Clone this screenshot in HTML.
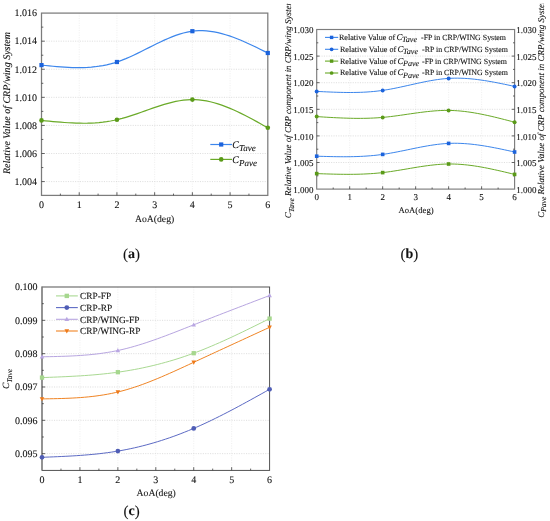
<!DOCTYPE html>
<html><head><meta charset="utf-8"><title>Figure</title>
<style>html,body{margin:0;padding:0;background:#fff}svg{display:block}</style></head>
<body>
<svg width="550" height="521" viewBox="0 0 550 521">
<rect width="550" height="521" fill="#fff"/>
<style>text{text-rendering:geometricPrecision;stroke:#222;stroke-width:0.1px;paint-order:stroke}</style>
<path d="M79.22,13.10V195.40M116.93,13.10V195.40M154.65,13.10V195.40M192.37,13.10V195.40M230.08,13.10V195.40" stroke="#e6e6e6" stroke-width="0.6" stroke-dasharray="1.1,1.3" fill="none"/>
<path d="M41.50,41.18H267.80M41.50,69.26H267.80M41.50,97.34H267.80M41.50,125.42H267.80M41.50,153.50H267.80M41.50,181.58H267.80" stroke="#cacaca" stroke-width="0.6" stroke-dasharray="1.1,1.3" fill="none"/>
<clipPath id="ca"><rect x="37.5" y="9.1" width="234.3" height="190.3"/></clipPath>
<path d="M41.50,65.10 L45.34,65.49 L49.17,65.88 L53.01,66.25 L56.84,66.59 L60.68,66.90 L64.51,67.17 L68.35,67.38 L72.18,67.54 L76.02,67.62 L79.86,67.63 L83.69,67.55 L87.53,67.38 L91.36,67.11 L95.20,66.72 L99.03,66.21 L102.87,65.57 L106.71,64.80 L110.54,63.88 L114.38,62.81 L118.21,61.57 L122.05,60.17 L125.88,58.63 L129.72,56.97 L133.55,55.22 L137.39,53.38 L141.23,51.49 L145.06,49.56 L148.90,47.62 L152.73,45.69 L156.57,43.78 L160.40,41.93 L164.24,40.14 L168.07,38.45 L171.91,36.87 L175.75,35.42 L179.58,34.12 L183.42,33.01 L187.25,32.08 L191.09,31.38 L194.92,30.92 L198.76,30.69 L202.59,30.69 L206.43,30.90 L210.27,31.31 L214.10,31.91 L217.94,32.68 L221.77,33.62 L225.61,34.71 L229.44,35.93 L233.28,37.28 L237.12,38.74 L240.95,40.31 L244.79,41.96 L248.62,43.68 L252.46,45.47 L256.29,47.31 L260.13,49.19 L263.96,51.09 L267.80,53.00" stroke="#3c86ec" stroke-width="1.2" fill="none"/>
<path d="M41.50,120.40 L45.34,120.79 L49.17,121.17 L53.01,121.54 L56.84,121.89 L60.68,122.22 L64.51,122.51 L68.35,122.76 L72.18,122.96 L76.02,123.12 L79.86,123.21 L83.69,123.23 L87.53,123.19 L91.36,123.06 L95.20,122.85 L99.03,122.54 L102.87,122.14 L106.71,121.63 L110.54,121.01 L114.38,120.26 L118.21,119.40 L122.05,118.41 L125.88,117.31 L129.72,116.12 L133.55,114.87 L137.39,113.56 L141.23,112.21 L145.06,110.85 L148.90,109.49 L152.73,108.14 L156.57,106.83 L160.40,105.58 L164.24,104.40 L168.07,103.30 L171.91,102.32 L175.75,101.46 L179.58,100.74 L183.42,100.18 L187.25,99.80 L191.09,99.61 L194.92,99.64 L198.76,99.88 L202.59,100.33 L206.43,100.96 L210.27,101.77 L214.10,102.75 L217.94,103.88 L221.77,105.16 L225.61,106.58 L229.44,108.12 L233.28,109.77 L237.12,111.52 L240.95,113.36 L244.79,115.28 L248.62,117.26 L252.46,119.30 L256.29,121.39 L260.13,123.51 L263.96,125.65 L267.80,127.80" stroke="#6aaa28" stroke-width="1.2" fill="none"/>
<rect x="41.50" y="13.10" width="226.30" height="182.30" fill="none" stroke="#7c7c7c" stroke-width="1.25"/>
<path d="M60.36,195.40v-1.8M79.22,195.40v-3.2M98.08,195.40v-1.8M116.93,195.40v-3.2M135.79,195.40v-1.8M154.65,195.40v-3.2M173.51,195.40v-1.8M192.37,195.40v-3.2M211.23,195.40v-1.8M230.08,195.40v-3.2M248.94,195.40v-1.8M41.50,41.18h3.2M41.50,69.26h3.2M41.50,97.34h3.2M41.50,125.42h3.2M41.50,153.50h3.2M41.50,181.58h3.2M41.50,27.14h1.8M41.50,55.22h1.8M41.50,83.30h1.8M41.50,111.38h1.8M41.50,139.46h1.8M41.50,167.54h1.8" stroke="#3c3c3c" stroke-width="0.8" fill="none"/>
<rect x="39.40" y="63.00" width="4.20" height="4.20" fill="#1c63dc"/>
<rect x="114.83" y="59.90" width="4.20" height="4.20" fill="#1c63dc"/>
<rect x="190.27" y="29.10" width="4.20" height="4.20" fill="#1c63dc"/>
<rect x="265.70" y="50.90" width="4.20" height="4.20" fill="#1c63dc"/>
<circle cx="41.50" cy="120.40" r="2.31" fill="#5a9a18"/>
<circle cx="116.93" cy="119.70" r="2.31" fill="#5a9a18"/>
<circle cx="192.37" cy="99.60" r="2.31" fill="#5a9a18"/>
<circle cx="267.80" cy="127.80" r="2.31" fill="#5a9a18"/>
<g font-family="'Liberation Serif', serif" font-size="10" fill="#111">
<text x="37.00" y="16.40" text-anchor="end">1.016</text>
<text x="37.00" y="44.48" text-anchor="end">1.014</text>
<text x="37.00" y="72.56" text-anchor="end">1.012</text>
<text x="37.00" y="100.64" text-anchor="end">1.010</text>
<text x="37.00" y="128.72" text-anchor="end">1.008</text>
<text x="37.00" y="156.80" text-anchor="end">1.006</text>
<text x="37.00" y="184.88" text-anchor="end">1.004</text>
<text x="41.50" y="207.80" text-anchor="middle">0</text>
<text x="79.22" y="207.80" text-anchor="middle">1</text>
<text x="116.93" y="207.80" text-anchor="middle">2</text>
<text x="154.65" y="207.80" text-anchor="middle">3</text>
<text x="192.37" y="207.80" text-anchor="middle">4</text>
<text x="230.08" y="207.80" text-anchor="middle">5</text>
<text x="267.80" y="207.80" text-anchor="middle">6</text>
</g>
<path d="M210.3,144.5H232" stroke="#3c86ec" stroke-width="1.2"/><rect x="219.10" y="142.40" width="4.20" height="4.20" fill="#1c63dc"/>
<path d="M210.3,159.4H232" stroke="#6aaa28" stroke-width="1.2"/><circle cx="221.20" cy="159.40" r="2.31" fill="#5a9a18"/>
<g font-family="'Liberation Serif', serif" font-style="italic" fill="#111" font-size="10">
<text x="232.3" y="147.7">C<tspan font-size="9" dy="2.9">Tave</tspan></text>
<text x="232.3" y="162.6">C<tspan font-size="9" dy="2.9">Pave</tspan></text>
</g>
<text transform="translate(9.7,103) rotate(-90)" text-anchor="middle" font-family="'Liberation Serif', serif" font-style="italic" font-size="10" fill="#111" textLength="142" lengthAdjust="spacingAndGlyphs">Relative Value of CRP/wing System</text>
<text x="154.6" y="221.8" text-anchor="middle" font-family="'Liberation Serif', serif" font-size="9.7" fill="#111">AoA(deg)</text>
<text x="131.6" y="258.0" text-anchor="middle" font-family="'Liberation Serif', serif" font-size="15" fill="#111"><tspan dy="0.7">(</tspan><tspan font-weight="bold" font-size="14" dy="-0.7">a</tspan><tspan dy="0.7">)</tspan></text>
<path d="M349.68,29.50V189.10M382.67,29.50V189.10M415.65,29.50V189.10M448.63,29.50V189.10M481.62,29.50V189.10" stroke="#e6e6e6" stroke-width="0.6" stroke-dasharray="1.1,1.3" fill="none"/>
<path d="M316.70,56.10H514.60M316.70,82.70H514.60M316.70,109.30H514.60M316.70,135.90H514.60M316.70,162.50H514.60" stroke="#cacaca" stroke-width="0.6" stroke-dasharray="1.1,1.3" fill="none"/>
<clipPath id="cb"><rect x="312.7" y="25.5" width="205.90000000000003" height="167.6"/></clipPath>
<path d="M316.70,91.40 L320.05,91.57 L323.41,91.73 L326.76,91.88 L330.12,92.03 L333.47,92.16 L336.83,92.28 L340.18,92.37 L343.53,92.44 L346.89,92.49 L350.24,92.50 L353.60,92.48 L356.95,92.42 L360.31,92.33 L363.66,92.19 L367.01,92.00 L370.37,91.76 L373.72,91.47 L377.08,91.12 L380.43,90.71 L383.78,90.23 L387.14,89.70 L390.49,89.11 L393.85,88.47 L397.20,87.79 L400.56,87.08 L403.91,86.35 L407.26,85.60 L410.62,84.85 L413.97,84.10 L417.33,83.36 L420.68,82.63 L424.04,81.94 L427.39,81.27 L430.74,80.65 L434.10,80.08 L437.45,79.57 L440.81,79.13 L444.16,78.76 L447.52,78.48 L450.87,78.28 L454.22,78.18 L457.58,78.16 L460.93,78.22 L464.29,78.36 L467.64,78.57 L470.99,78.85 L474.35,79.20 L477.70,79.59 L481.06,80.05 L484.41,80.54 L487.77,81.09 L491.12,81.67 L494.47,82.28 L497.83,82.92 L501.18,83.59 L504.54,84.28 L507.89,84.98 L511.25,85.69 L514.60,86.40" stroke="#3c86ec" stroke-width="1.0" fill="none"/>
<path d="M316.70,116.60 L320.05,116.81 L323.41,117.02 L326.76,117.22 L330.12,117.41 L333.47,117.60 L336.83,117.77 L340.18,117.92 L343.53,118.06 L346.89,118.17 L350.24,118.26 L353.60,118.33 L356.95,118.36 L360.31,118.37 L363.66,118.34 L367.01,118.27 L370.37,118.17 L373.72,118.02 L377.08,117.83 L380.43,117.59 L383.78,117.30 L387.14,116.96 L390.49,116.58 L393.85,116.16 L397.20,115.72 L400.56,115.25 L403.91,114.77 L407.26,114.28 L410.62,113.79 L413.97,113.31 L417.33,112.84 L420.68,112.40 L424.04,111.97 L427.39,111.59 L430.74,111.25 L434.10,110.95 L437.45,110.71 L440.81,110.53 L444.16,110.42 L447.52,110.39 L450.87,110.44 L454.22,110.58 L457.58,110.79 L460.93,111.08 L464.29,111.43 L467.64,111.86 L470.99,112.34 L474.35,112.88 L477.70,113.47 L481.06,114.11 L484.41,114.80 L487.77,115.52 L491.12,116.28 L494.47,117.07 L497.83,117.88 L501.18,118.72 L504.54,119.58 L507.89,120.44 L511.25,121.32 L514.60,122.20" stroke="#6aaa28" stroke-width="1.0" fill="none"/>
<path d="M316.70,156.20 L320.05,156.30 L323.41,156.40 L326.76,156.49 L330.12,156.57 L333.47,156.64 L336.83,156.69 L340.18,156.73 L343.53,156.74 L346.89,156.74 L350.24,156.70 L353.60,156.64 L356.95,156.54 L360.31,156.41 L363.66,156.24 L367.01,156.03 L370.37,155.77 L373.72,155.47 L377.08,155.11 L380.43,154.70 L383.78,154.24 L387.14,153.72 L390.49,153.15 L393.85,152.54 L397.20,151.90 L400.56,151.23 L403.91,150.55 L407.26,149.85 L410.62,149.16 L413.97,148.46 L417.33,147.78 L420.68,147.12 L424.04,146.49 L427.39,145.89 L430.74,145.33 L434.10,144.83 L437.45,144.38 L440.81,144.00 L444.16,143.69 L447.52,143.46 L450.87,143.32 L454.22,143.26 L457.58,143.29 L460.93,143.40 L464.29,143.58 L467.64,143.83 L470.99,144.14 L474.35,144.52 L477.70,144.95 L481.06,145.43 L484.41,145.95 L487.77,146.52 L491.12,147.12 L494.47,147.76 L497.83,148.42 L501.18,149.11 L504.54,149.82 L507.89,150.54 L511.25,151.27 L514.60,152.00" stroke="#3c86ec" stroke-width="1.0" fill="none"/>
<path d="M316.70,173.60 L320.05,173.72 L323.41,173.83 L326.76,173.94 L330.12,174.04 L333.47,174.13 L336.83,174.21 L340.18,174.27 L343.53,174.31 L346.89,174.33 L350.24,174.33 L353.60,174.31 L356.95,174.25 L360.31,174.16 L363.66,174.04 L367.01,173.89 L370.37,173.69 L373.72,173.46 L377.08,173.17 L380.43,172.85 L383.78,172.47 L387.14,172.04 L390.49,171.58 L393.85,171.07 L397.20,170.54 L400.56,169.99 L403.91,169.43 L407.26,168.86 L410.62,168.29 L413.97,167.72 L417.33,167.17 L420.68,166.64 L424.04,166.14 L427.39,165.68 L430.74,165.26 L434.10,164.88 L437.45,164.56 L440.81,164.31 L444.16,164.12 L447.52,164.02 L450.87,163.99 L454.22,164.05 L457.58,164.19 L460.93,164.41 L464.29,164.69 L467.64,165.04 L470.99,165.45 L474.35,165.92 L477.70,166.44 L481.06,167.01 L484.41,167.62 L487.77,168.28 L491.12,168.97 L494.47,169.69 L497.83,170.43 L501.18,171.20 L504.54,171.98 L507.89,172.78 L511.25,173.59 L514.60,174.40" stroke="#6aaa28" stroke-width="1.0" fill="none"/>
<rect x="316.70" y="29.50" width="197.90" height="159.60" fill="none" stroke="#7c7c7c" stroke-width="1.15"/>
<path d="M333.19,189.10v-1.6M349.68,189.10v-2.8M366.18,189.10v-1.6M382.67,189.10v-2.8M399.16,189.10v-1.6M415.65,189.10v-2.8M432.14,189.10v-1.6M448.63,189.10v-2.8M465.12,189.10v-1.6M481.62,189.10v-2.8M498.11,189.10v-1.6M316.70,56.10h2.8M514.60,56.10h-2.8M316.70,82.70h2.8M514.60,82.70h-2.8M316.70,109.30h2.8M514.60,109.30h-2.8M316.70,135.90h2.8M514.60,135.90h-2.8M316.70,162.50h2.8M514.60,162.50h-2.8M316.70,42.80h1.6M514.60,42.80h-1.6M316.70,69.40h1.6M514.60,69.40h-1.6M316.70,96.00h1.6M514.60,96.00h-1.6M316.70,122.60h1.6M514.60,122.60h-1.6M316.70,149.20h1.6M514.60,149.20h-1.6M316.70,175.80h1.6M514.60,175.80h-1.6" stroke="#3c3c3c" stroke-width="0.8" fill="none"/>
<circle cx="316.70" cy="91.40" r="1.98" fill="#1c63dc"/>
<circle cx="382.67" cy="90.40" r="1.98" fill="#1c63dc"/>
<circle cx="448.63" cy="78.40" r="1.98" fill="#1c63dc"/>
<circle cx="514.60" cy="86.40" r="1.98" fill="#1c63dc"/>
<circle cx="316.70" cy="116.60" r="1.98" fill="#5a9a18"/>
<circle cx="382.67" cy="117.40" r="1.98" fill="#5a9a18"/>
<circle cx="448.63" cy="110.40" r="1.98" fill="#5a9a18"/>
<circle cx="514.60" cy="122.20" r="1.98" fill="#5a9a18"/>
<rect x="314.90" y="154.40" width="3.60" height="3.60" fill="#1c63dc"/>
<rect x="380.87" y="152.60" width="3.60" height="3.60" fill="#1c63dc"/>
<rect x="446.83" y="141.60" width="3.60" height="3.60" fill="#1c63dc"/>
<rect x="512.80" y="150.20" width="3.60" height="3.60" fill="#1c63dc"/>
<rect x="314.90" y="171.80" width="3.60" height="3.60" fill="#5a9a18"/>
<rect x="380.87" y="170.80" width="3.60" height="3.60" fill="#5a9a18"/>
<rect x="446.83" y="162.20" width="3.60" height="3.60" fill="#5a9a18"/>
<rect x="512.80" y="172.60" width="3.60" height="3.60" fill="#5a9a18"/>
<g font-family="'Liberation Serif', serif" font-size="9.0" fill="#111">
<text x="313.50" y="33.27" text-anchor="end">1.030</text>
<text x="516.30" y="33.27" text-anchor="start">1.030</text>
<text x="313.50" y="59.87" text-anchor="end">1.025</text>
<text x="516.30" y="59.87" text-anchor="start">1.025</text>
<text x="313.50" y="86.47" text-anchor="end">1.020</text>
<text x="516.30" y="86.47" text-anchor="start">1.020</text>
<text x="313.50" y="113.07" text-anchor="end">1.015</text>
<text x="516.30" y="113.07" text-anchor="start">1.015</text>
<text x="313.50" y="139.67" text-anchor="end">1.010</text>
<text x="516.30" y="139.67" text-anchor="start">1.010</text>
<text x="313.50" y="166.27" text-anchor="end">1.005</text>
<text x="516.30" y="166.27" text-anchor="start">1.005</text>
<text x="313.50" y="192.87" text-anchor="end">1.000</text>
<text x="516.30" y="192.87" text-anchor="start">1.000</text>
<text x="316.70" y="200.20" text-anchor="middle">0</text>
<text x="349.68" y="200.20" text-anchor="middle">1</text>
<text x="382.67" y="200.20" text-anchor="middle">2</text>
<text x="415.65" y="200.20" text-anchor="middle">3</text>
<text x="448.63" y="200.20" text-anchor="middle">4</text>
<text x="481.62" y="200.20" text-anchor="middle">5</text>
<text x="514.60" y="200.20" text-anchor="middle">6</text>
</g>
<path d="M325,37.4H338.2" stroke="#3c86ec" stroke-width="1.1"/><rect x="329.90" y="35.70" width="3.40" height="3.40" fill="#1c63dc"/>
<g font-family="'Liberation Serif', serif" fill="#111" font-size="7.9">
<text x="338.9" y="39.80" font-size="8.15">Relative Value of</text>
<text x="396.4" y="39.80" font-style="italic" font-size="8.8">C</text>
<text x="402.0" y="42.00" font-style="italic" font-size="8.1">Tave</text>
<text x="421.0" y="39.80">-FP in CRP/WING System</text>
</g>
<path d="M325,49.3H338.2" stroke="#3c86ec" stroke-width="1.1"/><circle cx="331.60" cy="49.30" r="1.87" fill="#1c63dc"/>
<g font-family="'Liberation Serif', serif" fill="#111" font-size="7.9">
<text x="339.9" y="51.70" font-size="8.15">Relative Value of</text>
<text x="397.4" y="51.70" font-style="italic" font-size="8.8">C</text>
<text x="403.0" y="53.90" font-style="italic" font-size="8.1">Tave</text>
<text x="422.0" y="51.70">-RP in CRP/WING System</text>
</g>
<path d="M325,61.1H338.2" stroke="#6aaa28" stroke-width="1.1"/><rect x="329.90" y="59.40" width="3.40" height="3.40" fill="#5a9a18"/>
<g font-family="'Liberation Serif', serif" fill="#111" font-size="7.9">
<text x="339.9" y="63.50" font-size="8.15">Relative Value of</text>
<text x="397.4" y="63.50" font-style="italic" font-size="8.8">C</text>
<text x="403.0" y="65.70" font-style="italic" font-size="8.1">Pave</text>
<text x="422.0" y="63.50">-FP in CRP/WING System</text>
</g>
<path d="M325,73.0H338.2" stroke="#6aaa28" stroke-width="1.1"/><circle cx="331.60" cy="73.00" r="1.87" fill="#5a9a18"/>
<g font-family="'Liberation Serif', serif" fill="#111" font-size="7.9">
<text x="339.9" y="75.40" font-size="8.15">Relative Value of</text>
<text x="397.4" y="75.40" font-style="italic" font-size="8.8">C</text>
<text x="403.0" y="77.60" font-style="italic" font-size="8.1">Pave</text>
<text x="422.0" y="75.40">-RP in CRP/WING System</text>
</g>
<clipPath id="topclip"><rect x="275" y="3.7" width="275" height="230"/></clipPath>
<g clip-path="url(#topclip)"><text transform="translate(291.3,218.3) rotate(-90)" font-family="'Liberation Serif', serif" font-style="italic" font-size="8.97" fill="#111"><tspan>C</tspan><tspan font-size="7.6" dy="2.4">Tave</tspan><tspan dy="-2.4"> Relative Value of CRP component in CRP/wing System</tspan></text>
<text transform="translate(544,217.8) rotate(-90)" font-family="'Liberation Serif', serif" font-style="italic" font-size="8.97" fill="#111"><tspan>C</tspan><tspan font-size="7.6" dy="2.4">Pave</tspan><tspan dy="-2.4"> Relative Value of CRP component in CRP/wing System</tspan></text></g>
<text x="416.1" y="213" text-anchor="middle" font-family="'Liberation Serif', serif" font-size="8.7" fill="#111">AoA(deg)</text>
<text x="409.4" y="257.9" text-anchor="middle" font-family="'Liberation Serif', serif" font-size="15" fill="#111"><tspan dy="0.7">(</tspan><tspan font-weight="bold" font-size="14" dy="-0.7">b</tspan><tspan dy="0.7">)</tspan></text>
<path d="M79.93,287.00V470.40M117.87,287.00V470.40M155.80,287.00V470.40M193.73,287.00V470.40M231.67,287.00V470.40" stroke="#e6e6e6" stroke-width="0.6" stroke-dasharray="1.1,1.3" fill="none"/>
<path d="M42.00,320.33H269.60M42.00,353.66H269.60M42.00,386.99H269.60M42.00,420.32H269.60M42.00,453.65H269.60" stroke="#cacaca" stroke-width="0.6" stroke-dasharray="1.1,1.3" fill="none"/>
<clipPath id="cc"><rect x="38.0" y="283.0" width="235.60000000000002" height="191.39999999999998"/></clipPath>
<path d="M42.00,356.80 L45.86,356.73 L49.72,356.66 L53.57,356.57 L57.43,356.48 L61.29,356.37 L65.15,356.24 L69.00,356.09 L72.86,355.91 L76.72,355.70 L80.58,355.46 L84.43,355.17 L88.29,354.85 L92.15,354.47 L96.01,354.05 L99.86,353.57 L103.72,353.03 L107.58,352.43 L111.44,351.77 L115.29,351.03 L119.15,350.22 L123.01,349.34 L126.87,348.38 L130.73,347.36 L134.58,346.28 L138.44,345.13 L142.30,343.93 L146.16,342.69 L150.01,341.39 L153.87,340.06 L157.73,338.68 L161.59,337.28 L165.44,335.84 L169.30,334.38 L173.16,332.90 L177.02,331.40 L180.87,329.88 L184.73,328.36 L188.59,326.83 L192.45,325.31 L196.31,323.79 L200.16,322.27 L204.02,320.75 L207.88,319.25 L211.74,317.74 L215.59,316.24 L219.45,314.74 L223.31,313.25 L227.17,311.76 L231.02,310.27 L234.88,308.79 L238.74,307.31 L242.60,305.83 L246.45,304.35 L250.31,302.87 L254.17,301.39 L258.03,299.92 L261.88,298.45 L265.74,296.97 L269.60,295.50" stroke="#b7a5e0" stroke-width="1.0" fill="none"/>
<path d="M42.00,377.60 L45.86,377.46 L49.72,377.31 L53.57,377.16 L57.43,377.01 L61.29,376.84 L65.15,376.67 L69.00,376.48 L72.86,376.28 L76.72,376.06 L80.58,375.83 L84.43,375.57 L88.29,375.30 L92.15,374.99 L96.01,374.66 L99.86,374.31 L103.72,373.92 L107.58,373.50 L111.44,373.04 L115.29,372.55 L119.15,372.02 L123.01,371.45 L126.87,370.84 L130.73,370.18 L134.58,369.49 L138.44,368.75 L142.30,367.97 L146.16,367.14 L150.01,366.28 L153.87,365.36 L157.73,364.41 L161.59,363.40 L165.44,362.35 L169.30,361.26 L173.16,360.11 L177.02,358.92 L180.87,357.68 L184.73,356.40 L188.59,355.06 L192.45,353.67 L196.31,352.24 L200.16,350.75 L204.02,349.22 L207.88,347.64 L211.74,346.03 L215.59,344.37 L219.45,342.68 L223.31,340.96 L227.17,339.20 L231.02,337.42 L234.88,335.61 L238.74,333.78 L242.60,331.93 L246.45,330.06 L250.31,328.17 L254.17,326.27 L258.03,324.36 L261.88,322.45 L265.74,320.52 L269.60,318.60" stroke="#a9d992" stroke-width="1.0" fill="none"/>
<path d="M42.00,398.90 L45.86,398.84 L49.72,398.77 L53.57,398.70 L57.43,398.61 L61.29,398.51 L65.15,398.38 L69.00,398.22 L72.86,398.04 L76.72,397.81 L80.58,397.55 L84.43,397.24 L88.29,396.88 L92.15,396.47 L96.01,396.00 L99.86,395.46 L103.72,394.86 L107.58,394.19 L111.44,393.44 L115.29,392.60 L119.15,391.68 L123.01,390.68 L126.87,389.59 L130.73,388.42 L134.58,387.18 L138.44,385.88 L142.30,384.50 L146.16,383.07 L150.01,381.58 L153.87,380.04 L157.73,378.46 L161.59,376.83 L165.44,375.17 L169.30,373.48 L173.16,371.76 L177.02,370.01 L180.87,368.25 L184.73,366.47 L188.59,364.69 L192.45,362.90 L196.31,361.11 L200.16,359.32 L204.02,357.53 L207.88,355.75 L211.74,353.96 L215.59,352.18 L219.45,350.40 L223.31,348.62 L227.17,346.84 L231.02,345.06 L234.88,343.28 L238.74,341.50 L242.60,339.72 L246.45,337.95 L250.31,336.17 L254.17,334.40 L258.03,332.62 L261.88,330.85 L265.74,329.07 L269.60,327.30" stroke="#f08424" stroke-width="1.0" fill="none"/>
<path d="M42.00,457.30 L45.86,457.15 L49.72,457.00 L53.57,456.85 L57.43,456.68 L61.29,456.51 L65.15,456.32 L69.00,456.12 L72.86,455.90 L76.72,455.66 L80.58,455.39 L84.43,455.10 L88.29,454.78 L92.15,454.43 L96.01,454.05 L99.86,453.63 L103.72,453.17 L107.58,452.66 L111.44,452.12 L115.29,451.52 L119.15,450.88 L123.01,450.19 L126.87,449.44 L130.73,448.64 L134.58,447.80 L138.44,446.90 L142.30,445.95 L146.16,444.94 L150.01,443.89 L153.87,442.79 L157.73,441.63 L161.59,440.43 L165.44,439.17 L169.30,437.86 L173.16,436.51 L177.02,435.10 L180.87,433.64 L184.73,432.12 L188.59,430.56 L192.45,428.95 L196.31,427.29 L200.16,425.57 L204.02,423.81 L207.88,422.01 L211.74,420.17 L215.59,418.28 L219.45,416.36 L223.31,414.41 L227.17,412.43 L231.02,410.42 L234.88,408.38 L238.74,406.32 L242.60,404.23 L246.45,402.13 L250.31,400.02 L254.17,397.89 L258.03,395.75 L261.88,393.61 L265.74,391.45 L269.60,389.30" stroke="#5c6ac4" stroke-width="1.0" fill="none"/>
<rect x="42.00" y="287.00" width="227.60" height="183.40" fill="none" stroke="#4a4a4a" stroke-width="0.95"/>
<path d="M42.00,286.52V469.92" stroke="#858585" stroke-width="1.25" fill="none"/>
<path d="M60.97,470.40v-1.8M79.93,470.40v-3.2M98.90,470.40v-1.8M117.87,470.40v-3.2M136.83,470.40v-1.8M155.80,470.40v-3.2M174.77,470.40v-1.8M193.73,470.40v-3.2M212.70,470.40v-1.8M231.67,470.40v-3.2M250.63,470.40v-1.8M42.00,320.33h3.2M42.00,353.66h3.2M42.00,386.99h3.2M42.00,420.32h3.2M42.00,453.65h3.2M42.00,303.67h1.8M42.00,337.00h1.8M42.00,370.33h1.8M42.00,403.66h1.8M42.00,436.99h1.8" stroke="#3c3c3c" stroke-width="0.8" fill="none"/>
<path d="M42.00,354.39 L44.29,358.49 L39.71,358.49Z" fill="#b9a6e2"/>
<path d="M117.87,348.09 L120.15,352.19 L115.58,352.19Z" fill="#b9a6e2"/>
<path d="M193.73,322.39 L196.02,326.49 L191.45,326.49Z" fill="#b9a6e2"/>
<path d="M269.60,293.09 L271.89,297.19 L267.31,297.19Z" fill="#b9a6e2"/>
<rect x="39.85" y="375.45" width="4.30" height="4.30" fill="#a6d78e"/>
<rect x="115.72" y="370.05" width="4.30" height="4.30" fill="#a6d78e"/>
<rect x="191.58" y="351.05" width="4.30" height="4.30" fill="#a6d78e"/>
<rect x="267.45" y="316.45" width="4.30" height="4.30" fill="#a6d78e"/>
<path d="M42.00,401.31 L44.29,397.21 L39.71,397.21Z" fill="#ee7a1a"/>
<path d="M117.87,394.41 L120.15,390.31 L115.58,390.31Z" fill="#ee7a1a"/>
<path d="M193.73,364.71 L196.02,360.61 L191.45,360.61Z" fill="#ee7a1a"/>
<path d="M269.60,329.71 L271.89,325.61 L267.31,325.61Z" fill="#ee7a1a"/>
<circle cx="42.00" cy="457.30" r="2.37" fill="#4f5db5"/>
<circle cx="117.87" cy="451.10" r="2.37" fill="#4f5db5"/>
<circle cx="193.73" cy="428.40" r="2.37" fill="#4f5db5"/>
<circle cx="269.60" cy="389.30" r="2.37" fill="#4f5db5"/>
<g font-family="'Liberation Serif', serif" font-size="10" fill="#111">
<text x="37.50" y="290.30" text-anchor="end">0.100</text>
<text x="37.50" y="323.63" text-anchor="end">0.099</text>
<text x="37.50" y="356.96" text-anchor="end">0.098</text>
<text x="37.50" y="390.29" text-anchor="end">0.097</text>
<text x="37.50" y="423.62" text-anchor="end">0.096</text>
<text x="37.50" y="456.95" text-anchor="end">0.095</text>
<text x="42.00" y="482.60" text-anchor="middle">0</text>
<text x="79.93" y="482.60" text-anchor="middle">1</text>
<text x="117.87" y="482.60" text-anchor="middle">2</text>
<text x="155.80" y="482.60" text-anchor="middle">3</text>
<text x="193.73" y="482.60" text-anchor="middle">4</text>
<text x="231.67" y="482.60" text-anchor="middle">5</text>
<text x="269.60" y="482.60" text-anchor="middle">6</text>
</g>
<path d="M56,295.9H77.8" stroke="#a9d992" stroke-width="1.1"/><rect x="64.60" y="293.70" width="4.40" height="4.40" fill="#a6d78e"/>
<text x="80" y="299.20" font-family="'Liberation Serif', serif" font-size="9.4" fill="#111">CRP-FP</text>
<path d="M56,307.6H77.8" stroke="#5c6ac4" stroke-width="1.1"/><circle cx="66.80" cy="307.60" r="2.42" fill="#4f5db5"/>
<text x="80" y="310.90" font-family="'Liberation Serif', serif" font-size="9.4" fill="#111">CRP-RP</text>
<path d="M56,319.3H77.8" stroke="#b7a5e0" stroke-width="1.1"/><path d="M66.80,316.84 L69.14,321.02 L64.46,321.02Z" fill="#b9a6e2"/>
<text x="80" y="322.60" font-family="'Liberation Serif', serif" font-size="9.4" fill="#111">CRP/WING-FP</text>
<path d="M56,331.0H77.8" stroke="#f08424" stroke-width="1.1"/><path d="M66.80,333.46 L69.14,329.28 L64.46,329.28Z" fill="#ee7a1a"/>
<text x="80" y="334.30" font-family="'Liberation Serif', serif" font-size="9.4" fill="#111">CRP/WING-RP</text>
<text transform="translate(8.7,389.0) rotate(-90)" font-family="'Liberation Serif', serif" font-style="italic" font-size="9.5" fill="#111">C<tspan font-size="7.4" dy="3.2">Tave</tspan></text>
<text x="156.2" y="496" text-anchor="middle" font-family="'Liberation Serif', serif" font-size="9.7" fill="#111">AoA(deg)</text>
<text x="131.6" y="515.3" text-anchor="middle" font-family="'Liberation Serif', serif" font-size="15" fill="#111"><tspan dy="0.7">(</tspan><tspan font-weight="bold" font-size="14" dy="-0.7">c</tspan><tspan dy="0.7">)</tspan></text>
</svg>
</body></html>
